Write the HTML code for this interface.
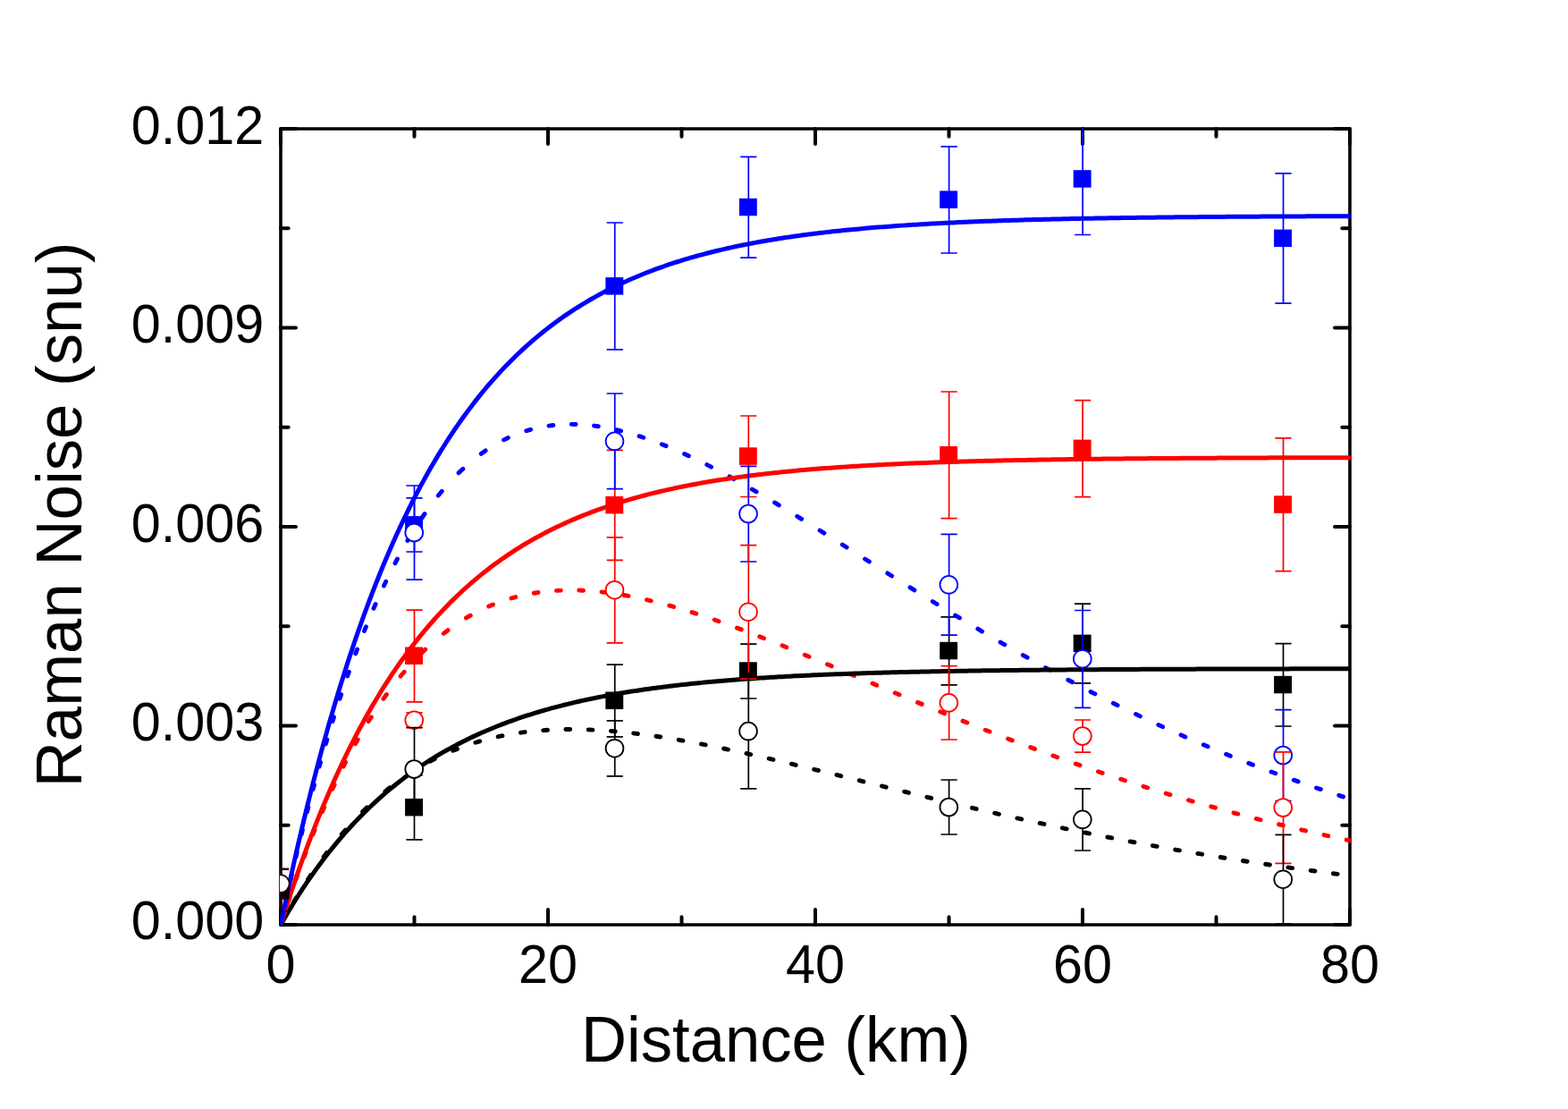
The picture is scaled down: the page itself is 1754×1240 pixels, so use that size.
<!DOCTYPE html>
<html lang="en"><head><meta charset="utf-8"><title>Raman Noise vs Distance</title>
<style>html,body{margin:0;padding:0;background:#fff;}body{width:1754px;height:1240px;overflow:hidden;}svg{display:block;}text{font-family:"Liberation Sans",Arial,Helvetica,sans-serif;fill:#000;}</style>
</head><body>
<svg width="1754" height="1240" viewBox="0 0 1754 1240">
<rect x="0" y="0" width="1754" height="1240" fill="#fff"/>
<defs><clipPath id="pc"><rect x="313.00" y="143.40" width="1198.00" height="891.60"/></clipPath></defs>
<g stroke="#000" fill="none" stroke-linecap="round">
<rect x="314.00" y="144.00" width="1196.00" height="890.00" stroke-width="3.60" stroke-linejoin="round"/>
<path d="M314.00 1034.00v-17.00M314.00 144.00v17.00M463.50 1034.00v-8.70M463.50 144.00v8.70M613.00 1034.00v-17.00M613.00 144.00v17.00M762.50 1034.00v-8.70M762.50 144.00v8.70M912.00 1034.00v-17.00M912.00 144.00v17.00M1061.50 1034.00v-8.70M1061.50 144.00v8.70M1211.00 1034.00v-17.00M1211.00 144.00v17.00M1360.50 1034.00v-8.70M1360.50 144.00v8.70M1510.00 1034.00v-17.00M1510.00 144.00v17.00M314.00 1034.00h17.00M1510.00 1034.00h-17.00M314.00 922.75h8.70M1510.00 922.75h-8.70M314.00 811.50h17.00M1510.00 811.50h-17.00M314.00 700.25h8.70M1510.00 700.25h-8.70M314.00 589.00h17.00M1510.00 589.00h-17.00M314.00 477.75h8.70M1510.00 477.75h-8.70M314.00 366.50h17.00M1510.00 366.50h-17.00M314.00 255.25h8.70M1510.00 255.25h-8.70M314.00 144.00h17.00M1510.00 144.00h-17.00" stroke-width="4.00"/>
</g>
<g font-size="60.40" text-anchor="end">
<text transform="translate(295.20 1050.35) scale(0.9827 1)">0.000</text>
<text transform="translate(295.20 828.10) scale(0.9827 1)">0.003</text>
<text transform="translate(295.20 606.25) scale(0.9827 1)">0.006</text>
<text transform="translate(295.20 383.25) scale(0.9827 1)">0.009</text>
<text transform="translate(295.20 161.25) scale(0.9827 1)">0.012</text>
</g>
<g font-size="60.40" text-anchor="middle">
<text transform="translate(314.00 1099.40) scale(0.9827 1)">0</text>
<text transform="translate(613.00 1099.40) scale(0.9827 1)">20</text>
<text transform="translate(912.00 1099.40) scale(0.9827 1)">40</text>
<text transform="translate(1211.00 1099.40) scale(0.9827 1)">60</text>
<text transform="translate(1510.00 1099.40) scale(0.9827 1)">80</text>
</g>
<text transform="translate(867.90 1187.00) scale(0.9788 1)" font-size="72.20" text-anchor="middle">Distance (km)</text>
<text transform="translate(91.30 575.50) rotate(-90) scale(0.9805 1)" font-size="72.20" text-anchor="middle">Raman Noise (snu)</text>
<g clip-path="url(#pc)">
<path d="M463.50 556.80V617.00M454.40 556.80h18.20M454.40 617.00h18.20M687.75 249.00V390.80M678.65 249.00h18.20M678.65 390.80h18.20M837.30 175.40V288.20M828.20 175.40h18.20M828.20 288.20h18.20M1061.60 163.90V283.00M1052.50 163.90h18.20M1052.50 283.00h18.20M1211.10 137.70V262.50M1202.00 137.70h18.20M1202.00 262.50h18.20M1435.50 193.90V339.10M1426.40 193.90h18.20M1426.40 339.10h18.20" stroke="#0000ff" stroke-width="1.70" fill="none"/><rect x="453.10" y="577.10" width="19.90" height="19.50" fill="#0000ff"/><rect x="677.35" y="310.10" width="19.90" height="19.50" fill="#0000ff"/><rect x="826.90" y="221.80" width="19.90" height="19.50" fill="#0000ff"/><rect x="1051.20" y="213.40" width="19.90" height="19.50" fill="#0000ff"/><rect x="1200.70" y="190.20" width="19.90" height="19.50" fill="#0000ff"/><rect x="1425.10" y="256.60" width="19.90" height="19.50" fill="#0000ff"/>
<path d="M463.50 682.20V784.80M454.40 682.20h18.20M454.40 784.80h18.20M687.75 503.30V626.40M678.65 503.30h18.20M678.65 626.40h18.20M837.30 465.00V555.50M828.20 465.00h18.20M828.20 555.50h18.20M1061.60 438.00V579.70M1052.50 438.00h18.20M1052.50 579.70h18.20M1211.10 447.60V555.70M1202.00 447.60h18.20M1202.00 555.70h18.20M1435.50 489.90V638.60M1426.40 489.90h18.20M1426.40 638.60h18.20" stroke="#ff0000" stroke-width="1.70" fill="none"/><rect x="453.10" y="723.50" width="19.90" height="19.50" fill="#ff0000"/><rect x="677.35" y="554.90" width="19.90" height="19.50" fill="#ff0000"/><rect x="826.90" y="500.30" width="19.90" height="19.50" fill="#ff0000"/><rect x="1051.20" y="498.90" width="19.90" height="19.50" fill="#ff0000"/><rect x="1200.70" y="491.60" width="19.90" height="19.50" fill="#ff0000"/><rect x="1425.10" y="554.30" width="19.90" height="19.50" fill="#ff0000"/>
<path d="M463.50 866.80V938.90M454.40 866.80h18.20M454.40 938.90h18.20M687.75 743.20V823.80M678.65 743.20h18.20M678.65 823.80h18.20M837.30 720.20V781.00M828.20 720.20h18.20M828.20 781.00h18.20M1061.60 689.90V765.80M1052.50 689.90h18.20M1052.50 765.80h18.20M1211.10 675.10V763.90M1202.00 675.10h18.20M1202.00 763.90h18.20M1435.50 719.60V812.00M1426.40 719.60h18.20M1426.40 812.00h18.20" stroke="#000000" stroke-width="1.70" fill="none"/><rect x="453.10" y="892.90" width="19.90" height="19.50" fill="#000000"/><rect x="677.35" y="773.50" width="19.90" height="19.50" fill="#000000"/><rect x="826.90" y="740.30" width="19.90" height="19.50" fill="#000000"/><rect x="1051.20" y="717.80" width="19.90" height="19.50" fill="#000000"/><rect x="1200.70" y="709.60" width="19.90" height="19.50" fill="#000000"/><rect x="1425.10" y="755.80" width="19.90" height="19.50" fill="#000000"/>
<path d="M314.04 1033.80L315.07 1029.00M319.52 1008.55L320.59 1003.75M325.20 983.30L326.30 978.50M331.09 958.05L332.23 953.25M337.20 932.80L338.39 928.00M343.56 907.55L344.80 902.75M350.19 882.30L351.49 877.50M357.13 857.05L358.49 852.25M364.40 831.80L365.82 827.00M372.05 806.55L373.54 801.75M380.11 781.30L381.70 776.50M388.66 756.05L390.34 751.25M397.75 730.80L399.55 726.00M407.49 705.55L409.42 700.75M417.99 680.30L420.08 675.50M429.39 655.05L431.68 650.25M441.93 629.80L444.46 625.00M455.89 604.55L458.75 599.75M471.76 579.30L475.05 574.50M490.32 554.05L494.25 549.25M513.05 528.82L517.85 524.23M538.30 507.33L543.10 503.95M563.55 491.89L568.35 489.57M588.80 481.70L593.60 480.30M614.05 476.08L618.85 475.48M639.30 474.39L644.10 474.47M664.55 476.08L669.35 476.74M689.80 480.65L694.60 481.81M715.05 487.66L719.85 489.23M740.30 496.72L745.10 498.64M765.55 507.48L770.35 509.69M790.80 519.64L795.60 522.09M816.05 532.93L820.85 535.56M841.30 547.11L846.10 549.89M866.55 561.97L871.35 564.86M891.80 577.34L896.60 580.30M917.05 593.04L921.85 596.06M942.30 608.96L947.10 612.00M967.55 624.96L972.35 628.00M992.80 640.95L997.60 643.98M1018.05 656.83L1022.85 659.84M1043.30 672.54L1048.10 675.50M1068.55 688.01L1073.35 690.92M1093.80 703.19L1098.60 706.04M1119.05 718.03L1123.85 720.81M1144.30 732.51L1149.10 735.22M1169.55 746.59L1174.35 749.22M1194.80 760.25L1199.60 762.79M1220.05 773.47L1224.85 775.93M1245.30 786.25L1250.10 788.63M1270.55 798.57L1275.35 800.86M1295.80 810.44L1300.60 812.64M1321.05 821.85L1325.85 823.97M1346.30 832.80L1351.10 834.83M1371.55 843.31L1376.35 845.25M1396.80 853.36L1401.60 855.22M1422.05 862.98L1426.85 864.76M1447.30 872.17L1452.10 873.87M1472.55 880.95L1477.35 882.57M1497.80 889.31L1502.60 890.86" stroke="#0000ff" stroke-width="4.90" stroke-linecap="round" fill="none"/>
<path d="M314.06 1033.80L315.60 1029.00M322.34 1008.55L323.96 1003.75M331.06 983.30L332.77 978.50M340.29 958.05L342.11 953.25M350.11 932.80L352.05 928.00M360.60 907.55L362.68 902.75M371.88 882.30L374.13 877.50M384.11 857.05L386.55 852.25M397.48 831.80L400.17 827.00M412.28 806.55L415.29 801.75M428.94 781.30L432.37 776.50M448.12 756.05L452.14 751.25M470.98 730.80L475.78 726.12M496.23 708.37L501.03 704.70M521.48 690.99L526.28 688.21M546.73 678.04L551.53 676.03M571.98 668.95L576.78 667.61M597.23 663.21L602.03 662.46M622.48 660.37L627.28 660.12M647.73 660.03L652.53 660.22M672.98 661.84L677.78 662.40M698.23 665.47L703.03 666.34M723.48 670.64L728.28 671.78M748.73 677.10L753.53 678.46M773.98 684.63L778.78 686.16M799.23 693.03L804.03 694.71M824.48 702.13L829.28 703.92M849.73 711.77L854.53 713.66M874.98 721.84L879.78 723.79M900.23 732.20L905.03 734.19M925.48 742.75L930.28 744.77M950.73 753.42L955.53 755.45M975.98 764.12L980.78 766.15M1001.23 774.79L1006.03 776.81M1026.48 785.38L1031.28 787.38M1051.73 795.83L1056.53 797.80M1076.98 806.11L1081.78 808.04M1102.23 816.19L1107.03 818.08M1127.48 826.03L1132.28 827.87M1152.73 835.62L1157.53 837.41M1177.98 844.94L1182.78 846.68M1203.23 853.97L1208.03 855.66M1228.48 862.72L1233.28 864.34M1253.73 871.16L1258.53 872.73M1278.98 879.29L1283.78 880.81M1304.23 887.13L1309.03 888.58M1329.48 894.65L1334.28 896.05M1354.73 901.87L1359.53 903.21M1379.98 908.79L1384.78 910.08M1405.23 915.42L1410.03 916.65M1430.48 921.75L1435.28 922.93M1455.73 927.80L1460.53 928.92M1480.98 933.58L1485.78 934.65M1506.23 939.08L1511.03 940.10" stroke="#ff0000" stroke-width="4.90" stroke-linecap="round" fill="none"/>
<path d="M314.11 1033.80L316.76 1029.00M328.55 1008.55L331.45 1003.75M344.44 983.30L347.65 978.50M362.15 958.05L365.77 953.25M382.26 932.80L386.42 928.00M405.66 907.56L410.46 902.89M430.91 884.79L435.71 880.95M456.16 866.15L460.96 863.03M481.41 851.13L486.21 848.64M506.66 839.29L511.46 837.37M531.91 830.25L536.71 828.82M557.16 823.66L561.96 822.65M582.41 819.19L587.21 818.56M607.66 816.57L612.46 816.26M632.91 815.54L637.71 815.51M658.16 815.89L662.96 816.09M683.41 817.41L688.21 817.81M708.66 819.92L713.46 820.49M733.91 823.26L738.71 823.98M759.16 827.31L763.96 828.15M784.41 831.93L789.21 832.86M809.66 837.02L814.46 838.03M834.91 842.47L839.71 843.54M860.16 848.21L864.96 849.33M885.41 854.17L890.21 855.32M910.66 860.28L915.46 861.45M935.91 866.47L940.71 867.66M961.16 872.72L965.96 873.90M986.41 878.96L991.21 880.15M1011.66 885.18L1016.46 886.35M1036.91 891.33L1041.71 892.49M1062.16 897.40L1066.96 898.54M1087.41 903.35L1092.21 904.47M1112.66 909.18L1117.46 910.28M1137.91 914.87L1142.71 915.94M1163.16 920.41L1167.96 921.44M1188.41 925.78L1193.21 926.79M1213.66 930.99L1218.46 931.96M1238.91 936.02L1243.71 936.96M1264.16 940.88L1268.96 941.78M1289.41 945.56L1294.21 946.43M1314.66 950.06L1319.46 950.89M1339.91 954.38L1344.71 955.18M1365.16 958.53L1369.96 959.29M1390.41 962.50L1395.21 963.23M1415.66 966.29L1420.46 967.00M1440.91 969.93L1445.71 970.60M1466.16 973.39L1470.96 974.03M1491.41 976.70L1496.21 977.31" stroke="#000000" stroke-width="4.90" stroke-linecap="round" fill="none"/>
<path d="M314.00 1034.00L317.00 1028.76L319.99 1023.62L322.99 1018.57L325.99 1013.61L328.99 1008.74L331.98 1003.96L334.98 999.27L337.98 994.67L340.98 990.15L343.97 985.71L346.97 981.35L349.97 977.08L352.97 972.88L355.96 968.76L358.96 964.71L361.96 960.74L364.96 956.84L367.95 953.01L370.95 949.25L373.95 945.56L376.95 941.94L379.94 938.38L382.94 934.89L385.94 931.47L388.94 928.10L391.93 924.80L394.93 921.56L397.93 918.37L400.93 915.25L403.92 912.18L406.92 909.17L409.92 906.21L412.92 903.31L415.91 900.46L418.91 897.67L421.91 894.92L424.91 892.23L427.90 889.58L430.90 886.98L433.90 884.43L436.90 881.93L439.89 879.47L442.89 877.06L445.89 874.69L448.89 872.36L451.88 870.08L454.88 867.84L457.88 865.64L460.88 863.48L463.87 861.36L466.87 859.28L469.87 857.23L472.87 855.23L475.86 853.26L478.86 851.33L481.86 849.43L484.86 847.57L487.85 845.74L490.85 843.94L493.85 842.18L496.85 840.45L499.84 838.75L502.84 837.08L505.84 835.44L508.84 833.84L511.83 832.26L514.83 830.71L517.83 829.19L520.83 827.70L523.82 826.23L526.82 824.79L529.82 823.38L532.82 821.99L535.81 820.63L538.81 819.30L541.81 817.98L544.81 816.70L547.80 815.43L550.80 814.19L553.80 812.97L556.80 811.78L559.79 810.60L562.79 809.45L565.79 808.32L568.79 807.21L571.78 806.12L574.78 805.05L577.78 803.99L580.78 802.96L583.77 801.95L586.77 800.96L589.77 799.98L592.77 799.02L595.76 798.08L598.76 797.16L601.76 796.25L604.76 795.36L607.75 794.49L610.75 793.63L613.75 792.79L616.74 791.96L619.74 791.15L622.74 790.35L625.74 789.57L628.73 788.80L631.73 788.05L634.73 787.31L637.73 786.58L640.72 785.87L643.72 785.17L646.72 784.48L649.72 783.80L652.71 783.14L655.71 782.49L658.71 781.85L661.71 781.23L664.70 780.61L667.70 780.01L670.70 779.41L673.70 778.83L676.69 778.26L679.69 777.70L682.69 777.15L685.69 776.61L688.68 776.08L691.68 775.56L694.68 775.05L697.68 774.54L700.67 774.05L703.67 773.57L706.67 773.09L709.67 772.62L712.66 772.17L715.66 771.72L718.66 771.28L721.66 770.84L724.65 770.42L727.65 770.00L730.65 769.59L733.65 769.19L736.64 768.79L739.64 768.41L742.64 768.02L745.64 767.65L748.63 767.28L751.63 766.92L754.63 766.57L757.63 766.22L760.62 765.88L763.62 765.55L766.62 765.22L769.62 764.90L772.61 764.58L775.61 764.27L778.61 763.97L781.61 763.67L784.60 763.37L787.60 763.08L790.60 762.80L793.60 762.52L796.59 762.25L799.59 761.98L802.59 761.72L805.59 761.46L808.58 761.21L811.58 760.96L814.58 760.71L817.58 760.47L820.57 760.24L823.57 760.01L826.57 759.78L829.57 759.56L832.56 759.34L835.56 759.12L838.56 758.91L841.56 758.70L844.55 758.50L847.55 758.30L850.55 758.11L853.55 757.91L856.54 757.73L859.54 757.54L862.54 757.36L865.54 757.18L868.53 757.00L871.53 756.83L874.53 756.66L877.53 756.50L880.52 756.33L883.52 756.17L886.52 756.02L889.52 755.86L892.51 755.71L895.51 755.56L898.51 755.42L901.51 755.28L904.50 755.14L907.50 755.00L910.50 754.86L913.50 754.73L916.49 754.60L919.49 754.47L922.49 754.34L925.48 754.22L928.48 754.10L931.48 753.98L934.48 753.86L937.47 753.75L940.47 753.64L943.47 753.53L946.47 753.42L949.46 753.31L952.46 753.21L955.46 753.10L958.46 753.00L961.45 752.91L964.45 752.81L967.45 752.71L970.45 752.62L973.44 752.53L976.44 752.44L979.44 752.35L982.44 752.26L985.43 752.18L988.43 752.09L991.43 752.01L994.43 751.93L997.42 751.85L1000.42 751.77L1003.42 751.70L1006.42 751.62L1009.41 751.55L1012.41 751.48L1015.41 751.41L1018.41 751.34L1021.40 751.27L1024.40 751.20L1027.40 751.13L1030.40 751.07L1033.39 751.01L1036.39 750.94L1039.39 750.88L1042.39 750.82L1045.38 750.76L1048.38 750.71L1051.38 750.65L1054.38 750.59L1057.37 750.54L1060.37 750.48L1063.37 750.43L1066.37 750.38L1069.36 750.33L1072.36 750.28L1075.36 750.23L1078.36 750.18L1081.35 750.13L1084.35 750.09L1087.35 750.04L1090.35 750.00L1093.34 749.95L1096.34 749.91L1099.34 749.87L1102.34 749.83L1105.33 749.79L1108.33 749.75L1111.33 749.71L1114.33 749.67L1117.32 749.63L1120.32 749.59L1123.32 749.56L1126.32 749.52L1129.31 749.49L1132.31 749.45L1135.31 749.42L1138.31 749.38L1141.30 749.35L1144.30 749.32L1147.30 749.29L1150.30 749.26L1153.29 749.23L1156.29 749.20L1159.29 749.17L1162.29 749.14L1165.28 749.11L1168.28 749.08L1171.28 749.06L1174.28 749.03L1177.27 749.00L1180.27 748.98L1183.27 748.95L1186.27 748.93L1189.26 748.90L1192.26 748.88L1195.26 748.86L1198.26 748.83L1201.25 748.81L1204.25 748.79L1207.25 748.77L1210.25 748.75L1213.24 748.72L1216.24 748.70L1219.24 748.68L1222.23 748.66L1225.23 748.64L1228.23 748.63L1231.23 748.61L1234.22 748.59L1237.22 748.57L1240.22 748.55L1243.22 748.54L1246.21 748.52L1249.21 748.50L1252.21 748.48L1255.21 748.47L1258.20 748.45L1261.20 748.44L1264.20 748.42L1267.20 748.41L1270.19 748.39L1273.19 748.38L1276.19 748.36L1279.19 748.35L1282.18 748.34L1285.18 748.32L1288.18 748.31L1291.18 748.30L1294.17 748.28L1297.17 748.27L1300.17 748.26L1303.17 748.25L1306.16 748.23L1309.16 748.22L1312.16 748.21L1315.16 748.20L1318.15 748.19L1321.15 748.18L1324.15 748.17L1327.15 748.16L1330.14 748.15L1333.14 748.14L1336.14 748.13L1339.14 748.12L1342.13 748.11L1345.13 748.10L1348.13 748.09L1351.13 748.08L1354.12 748.07L1357.12 748.06L1360.12 748.06L1363.12 748.05L1366.11 748.04L1369.11 748.03L1372.11 748.02L1375.11 748.01L1378.10 748.01L1381.10 748.00L1384.10 747.99L1387.10 747.99L1390.09 747.98L1393.09 747.97L1396.09 747.96L1399.09 747.96L1402.08 747.95L1405.08 747.94L1408.08 747.94L1411.08 747.93L1414.07 747.93L1417.07 747.92L1420.07 747.91L1423.07 747.91L1426.06 747.90L1429.06 747.90L1432.06 747.89L1435.06 747.89L1438.05 747.88L1441.05 747.88L1444.05 747.87L1447.05 747.87L1450.04 747.86L1453.04 747.86L1456.04 747.85L1459.04 747.85L1462.03 747.84L1465.03 747.84L1468.03 747.83L1471.03 747.83L1474.02 747.83L1477.02 747.82L1480.02 747.82L1483.02 747.81L1486.01 747.81L1489.01 747.81L1492.01 747.80L1495.01 747.80L1498.00 747.79L1501.00 747.79L1504.00 747.79L1507.00 747.78L1509.99 747.78L1512.99 747.78" stroke="#000000" stroke-width="5.00" fill="none" stroke-linejoin="round"/>
<path d="M314.00 1034.00L317.00 1024.44L319.99 1015.05L322.99 1005.83L325.99 996.78L328.99 987.90L331.98 979.18L334.98 970.62L337.98 962.22L340.98 953.96L343.97 945.87L346.97 937.91L349.97 930.11L352.97 922.45L355.96 914.92L358.96 907.54L361.96 900.29L364.96 893.17L367.95 886.18L370.95 879.33L373.95 872.59L376.95 865.98L379.94 859.49L382.94 853.12L385.94 846.87L388.94 840.73L391.93 834.70L394.93 828.78L397.93 822.97L400.93 817.27L403.92 811.67L406.92 806.18L409.92 800.78L412.92 795.49L415.91 790.29L418.91 785.18L421.91 780.17L424.91 775.25L427.90 770.42L430.90 765.68L433.90 761.03L436.90 756.46L439.89 751.97L442.89 747.57L445.89 743.25L448.89 739.00L451.88 734.84L454.88 730.75L457.88 726.73L460.88 722.79L463.87 718.92L466.87 715.12L469.87 711.39L472.87 707.73L475.86 704.14L478.86 700.61L481.86 697.14L484.86 693.74L487.85 690.41L490.85 687.13L493.85 683.91L496.85 680.75L499.84 677.65L502.84 674.61L505.84 671.62L508.84 668.69L511.83 665.81L514.83 662.98L517.83 660.21L520.83 657.48L523.82 654.81L526.82 652.18L529.82 649.60L532.82 647.07L535.81 644.59L538.81 642.15L541.81 639.76L544.81 637.41L547.80 635.10L550.80 632.83L553.80 630.61L556.80 628.43L559.79 626.28L562.79 624.18L565.79 622.11L568.79 620.09L571.78 618.10L574.78 616.14L577.78 614.22L580.78 612.34L583.77 610.49L586.77 608.68L589.77 606.90L592.77 605.15L595.76 603.43L598.76 601.74L601.76 600.09L604.76 598.46L607.75 596.87L610.75 595.30L613.75 593.77L616.74 592.26L619.74 590.78L622.74 589.32L625.74 587.90L628.73 586.49L631.73 585.12L634.73 583.77L637.73 582.44L640.72 581.14L643.72 579.86L646.72 578.61L649.72 577.38L652.71 576.17L655.71 574.98L658.71 573.82L661.71 572.67L664.70 571.55L667.70 570.45L670.70 569.36L673.70 568.30L676.69 567.26L679.69 566.23L682.69 565.23L685.69 564.24L688.68 563.27L691.68 562.32L694.68 561.39L697.68 560.47L700.67 559.57L703.67 558.69L706.67 557.82L709.67 556.97L712.66 556.14L715.66 555.32L718.66 554.51L721.66 553.72L724.65 552.94L727.65 552.18L730.65 551.43L733.65 550.70L736.64 549.98L739.64 549.27L742.64 548.58L745.64 547.89L748.63 547.22L751.63 546.57L754.63 545.92L757.63 545.29L760.62 544.67L763.62 544.06L766.62 543.46L769.62 542.87L772.61 542.29L775.61 541.72L778.61 541.17L781.61 540.62L784.60 540.08L787.60 539.56L790.60 539.04L793.60 538.53L796.59 538.04L799.59 537.55L802.59 537.07L805.59 536.59L808.58 536.13L811.58 535.68L814.58 535.23L817.58 534.79L820.57 534.36L823.57 533.94L826.57 533.53L829.57 533.12L832.56 532.72L835.56 532.33L838.56 531.94L841.56 531.57L844.55 531.20L847.55 530.83L850.55 530.47L853.55 530.12L856.54 529.78L859.54 529.44L862.54 529.11L865.54 528.78L868.53 528.46L871.53 528.15L874.53 527.84L877.53 527.54L880.52 527.24L883.52 526.95L886.52 526.66L889.52 526.38L892.51 526.11L895.51 525.84L898.51 525.57L901.51 525.31L904.50 525.05L907.50 524.80L910.50 524.55L913.50 524.31L916.49 524.07L919.49 523.84L922.49 523.61L925.48 523.38L928.48 523.16L931.48 522.95L934.48 522.73L937.47 522.52L940.47 522.32L943.47 522.12L946.47 521.92L949.46 521.72L952.46 521.53L955.46 521.35L958.46 521.16L961.45 520.98L964.45 520.81L967.45 520.63L970.45 520.46L973.44 520.29L976.44 520.13L979.44 519.97L982.44 519.81L985.43 519.65L988.43 519.50L991.43 519.35L994.43 519.20L997.42 519.06L1000.42 518.92L1003.42 518.78L1006.42 518.64L1009.41 518.51L1012.41 518.37L1015.41 518.24L1018.41 518.12L1021.40 517.99L1024.40 517.87L1027.40 517.75L1030.40 517.63L1033.39 517.52L1036.39 517.40L1039.39 517.29L1042.39 517.18L1045.38 517.07L1048.38 516.97L1051.38 516.86L1054.38 516.76L1057.37 516.66L1060.37 516.56L1063.37 516.47L1066.37 516.37L1069.36 516.28L1072.36 516.19L1075.36 516.10L1078.36 516.01L1081.35 515.93L1084.35 515.84L1087.35 515.76L1090.35 515.68L1093.34 515.60L1096.34 515.52L1099.34 515.44L1102.34 515.37L1105.33 515.29L1108.33 515.22L1111.33 515.15L1114.33 515.08L1117.32 515.01L1120.32 514.94L1123.32 514.87L1126.32 514.81L1129.31 514.74L1132.31 514.68L1135.31 514.62L1138.31 514.56L1141.30 514.50L1144.30 514.44L1147.30 514.38L1150.30 514.33L1153.29 514.27L1156.29 514.22L1159.29 514.16L1162.29 514.11L1165.28 514.06L1168.28 514.01L1171.28 513.96L1174.28 513.91L1177.27 513.86L1180.27 513.82L1183.27 513.77L1186.27 513.72L1189.26 513.68L1192.26 513.64L1195.26 513.59L1198.26 513.55L1201.25 513.51L1204.25 513.47L1207.25 513.43L1210.25 513.39L1213.24 513.35L1216.24 513.32L1219.24 513.28L1222.23 513.24L1225.23 513.21L1228.23 513.17L1231.23 513.14L1234.22 513.10L1237.22 513.07L1240.22 513.04L1243.22 513.01L1246.21 512.98L1249.21 512.94L1252.21 512.91L1255.21 512.89L1258.20 512.86L1261.20 512.83L1264.20 512.80L1267.20 512.77L1270.19 512.75L1273.19 512.72L1276.19 512.69L1279.19 512.67L1282.18 512.64L1285.18 512.62L1288.18 512.59L1291.18 512.57L1294.17 512.55L1297.17 512.52L1300.17 512.50L1303.17 512.48L1306.16 512.46L1309.16 512.44L1312.16 512.42L1315.16 512.40L1318.15 512.38L1321.15 512.36L1324.15 512.34L1327.15 512.32L1330.14 512.30L1333.14 512.28L1336.14 512.26L1339.14 512.25L1342.13 512.23L1345.13 512.21L1348.13 512.19L1351.13 512.18L1354.12 512.16L1357.12 512.15L1360.12 512.13L1363.12 512.12L1366.11 512.10L1369.11 512.09L1372.11 512.07L1375.11 512.06L1378.10 512.04L1381.10 512.03L1384.10 512.02L1387.10 512.00L1390.09 511.99L1393.09 511.98L1396.09 511.97L1399.09 511.95L1402.08 511.94L1405.08 511.93L1408.08 511.92L1411.08 511.91L1414.07 511.90L1417.07 511.88L1420.07 511.87L1423.07 511.86L1426.06 511.85L1429.06 511.84L1432.06 511.83L1435.06 511.82L1438.05 511.81L1441.05 511.80L1444.05 511.80L1447.05 511.79L1450.04 511.78L1453.04 511.77L1456.04 511.76L1459.04 511.75L1462.03 511.74L1465.03 511.74L1468.03 511.73L1471.03 511.72L1474.02 511.71L1477.02 511.70L1480.02 511.70L1483.02 511.69L1486.01 511.68L1489.01 511.68L1492.01 511.67L1495.01 511.66L1498.00 511.66L1501.00 511.65L1504.00 511.64L1507.00 511.64L1509.99 511.63L1512.99 511.62" stroke="#ff0000" stroke-width="5.00" fill="none" stroke-linejoin="round"/>
<path d="M314.00 1034.00L317.00 1019.49L319.99 1005.25L322.99 991.27L325.99 977.55L328.99 964.08L331.98 950.85L334.98 937.87L337.98 925.12L340.98 912.61L343.97 900.32L346.97 888.26L349.97 876.42L352.97 864.80L355.96 853.39L358.96 842.19L361.96 831.20L364.96 820.40L367.95 809.80L370.95 799.40L373.95 789.19L376.95 779.16L379.94 769.32L382.94 759.65L385.94 750.17L388.94 740.86L391.93 731.71L394.93 722.74L397.93 713.93L400.93 705.28L403.92 696.79L406.92 688.45L409.92 680.27L412.92 672.24L415.91 664.35L418.91 656.61L421.91 649.01L424.91 641.55L427.90 634.22L430.90 627.03L433.90 619.97L436.90 613.04L439.89 606.24L442.89 599.56L445.89 593.00L448.89 586.56L451.88 580.24L454.88 574.04L457.88 567.95L460.88 561.97L463.87 556.10L466.87 550.34L469.87 544.69L472.87 539.13L475.86 533.68L478.86 528.33L481.86 523.08L484.86 517.92L487.85 512.86L490.85 507.89L493.85 503.01L496.85 498.22L499.84 493.51L502.84 488.90L505.84 484.37L508.84 479.92L511.83 475.55L514.83 471.26L517.83 467.05L520.83 462.92L523.82 458.86L526.82 454.88L529.82 450.97L532.82 447.13L535.81 443.36L538.81 439.67L541.81 436.03L544.81 432.47L547.80 428.97L550.80 425.53L553.80 422.16L556.80 418.85L559.79 415.60L562.79 412.41L565.79 409.28L568.79 406.20L571.78 403.18L574.78 400.22L577.78 397.31L580.78 394.45L583.77 391.65L586.77 388.90L589.77 386.19L592.77 383.54L595.76 380.94L598.76 378.38L601.76 375.87L604.76 373.41L607.75 370.99L610.75 368.61L613.75 366.28L616.74 363.99L619.74 361.75L622.74 359.54L625.74 357.38L628.73 355.25L631.73 353.16L634.73 351.11L637.73 349.10L640.72 347.13L643.72 345.19L646.72 343.29L649.72 341.42L652.71 339.59L655.71 337.79L658.71 336.02L661.71 334.28L664.70 332.58L667.70 330.91L670.70 329.27L673.70 327.66L676.69 326.07L679.69 324.52L682.69 323.00L685.69 321.50L688.68 320.03L691.68 318.59L694.68 317.17L697.68 315.78L700.67 314.42L703.67 313.08L706.67 311.76L709.67 310.47L712.66 309.21L715.66 307.96L718.66 306.74L721.66 305.54L724.65 304.36L727.65 303.21L730.65 302.07L733.65 300.96L736.64 299.87L739.64 298.79L742.64 297.74L745.64 296.70L748.63 295.69L751.63 294.69L754.63 293.71L757.63 292.75L760.62 291.81L763.62 290.88L766.62 289.97L769.62 289.08L772.61 288.21L775.61 287.35L778.61 286.50L781.61 285.67L784.60 284.86L787.60 284.06L790.60 283.28L793.60 282.51L796.59 281.75L799.59 281.01L802.59 280.28L805.59 279.56L808.58 278.86L811.58 278.17L814.58 277.50L817.58 276.83L820.57 276.18L823.57 275.54L826.57 274.91L829.57 274.30L832.56 273.69L835.56 273.10L838.56 272.51L841.56 271.94L844.55 271.38L847.55 270.82L850.55 270.28L853.55 269.75L856.54 269.23L859.54 268.72L862.54 268.21L865.54 267.72L868.53 267.23L871.53 266.76L874.53 266.29L877.53 265.83L880.52 265.38L883.52 264.94L886.52 264.50L889.52 264.08L892.51 263.66L895.51 263.25L898.51 262.84L901.51 262.45L904.50 262.06L907.50 261.68L910.50 261.30L913.50 260.93L916.49 260.57L919.49 260.22L922.49 259.87L925.48 259.53L928.48 259.19L931.48 258.86L934.48 258.54L937.47 258.22L940.47 257.91L943.47 257.61L946.47 257.31L949.46 257.01L952.46 256.72L955.46 256.44L958.46 256.16L961.45 255.89L964.45 255.62L967.45 255.35L970.45 255.09L973.44 254.84L976.44 254.59L979.44 254.35L982.44 254.11L985.43 253.87L988.43 253.64L991.43 253.41L994.43 253.19L997.42 252.97L1000.42 252.75L1003.42 252.54L1006.42 252.33L1009.41 252.13L1012.41 251.93L1015.41 251.73L1018.41 251.54L1021.40 251.35L1024.40 251.17L1027.40 250.98L1030.40 250.80L1033.39 250.63L1036.39 250.46L1039.39 250.29L1042.39 250.12L1045.38 249.96L1048.38 249.80L1051.38 249.64L1054.38 249.49L1057.37 249.33L1060.37 249.18L1063.37 249.04L1066.37 248.90L1069.36 248.75L1072.36 248.62L1075.36 248.48L1078.36 248.35L1081.35 248.22L1084.35 248.09L1087.35 247.96L1090.35 247.84L1093.34 247.72L1096.34 247.60L1099.34 247.48L1102.34 247.37L1105.33 247.25L1108.33 247.14L1111.33 247.03L1114.33 246.93L1117.32 246.82L1120.32 246.72L1123.32 246.62L1126.32 246.52L1129.31 246.42L1132.31 246.33L1135.31 246.23L1138.31 246.14L1141.30 246.05L1144.30 245.96L1147.30 245.87L1150.30 245.79L1153.29 245.70L1156.29 245.62L1159.29 245.54L1162.29 245.46L1165.28 245.38L1168.28 245.31L1171.28 245.23L1174.28 245.16L1177.27 245.09L1180.27 245.01L1183.27 244.94L1186.27 244.88L1189.26 244.81L1192.26 244.74L1195.26 244.68L1198.26 244.61L1201.25 244.55L1204.25 244.49L1207.25 244.43L1210.25 244.37L1213.24 244.31L1216.24 244.26L1219.24 244.20L1222.23 244.15L1225.23 244.09L1228.23 244.04L1231.23 243.99L1234.22 243.94L1237.22 243.89L1240.22 243.84L1243.22 243.79L1246.21 243.74L1249.21 243.69L1252.21 243.65L1255.21 243.60L1258.20 243.56L1261.20 243.52L1264.20 243.47L1267.20 243.43L1270.19 243.39L1273.19 243.35L1276.19 243.31L1279.19 243.27L1282.18 243.24L1285.18 243.20L1288.18 243.16L1291.18 243.13L1294.17 243.09L1297.17 243.06L1300.17 243.02L1303.17 242.99L1306.16 242.96L1309.16 242.92L1312.16 242.89L1315.16 242.86L1318.15 242.83L1321.15 242.80L1324.15 242.77L1327.15 242.74L1330.14 242.72L1333.14 242.69L1336.14 242.66L1339.14 242.63L1342.13 242.61L1345.13 242.58L1348.13 242.56L1351.13 242.53L1354.12 242.51L1357.12 242.48L1360.12 242.46L1363.12 242.44L1366.11 242.41L1369.11 242.39L1372.11 242.37L1375.11 242.35L1378.10 242.33L1381.10 242.31L1384.10 242.29L1387.10 242.27L1390.09 242.25L1393.09 242.23L1396.09 242.21L1399.09 242.19L1402.08 242.17L1405.08 242.15L1408.08 242.14L1411.08 242.12L1414.07 242.10L1417.07 242.09L1420.07 242.07L1423.07 242.05L1426.06 242.04L1429.06 242.02L1432.06 242.01L1435.06 241.99L1438.05 241.98L1441.05 241.97L1444.05 241.95L1447.05 241.94L1450.04 241.92L1453.04 241.91L1456.04 241.90L1459.04 241.88L1462.03 241.87L1465.03 241.86L1468.03 241.85L1471.03 241.84L1474.02 241.82L1477.02 241.81L1480.02 241.80L1483.02 241.79L1486.01 241.78L1489.01 241.77L1492.01 241.76L1495.01 241.75L1498.00 241.74L1501.00 241.73L1504.00 241.72L1507.00 241.71L1509.99 241.70L1512.99 241.69" stroke="#0000ff" stroke-width="5.00" fill="none" stroke-linejoin="round"/>
<path d="M463.50 543.00V648.20M454.40 543.00h18.20M454.40 648.20h18.20M687.75 440.00V546.60M678.65 440.00h18.20M678.65 546.60h18.20M837.30 521.30V628.00M828.20 521.30h18.20M828.20 628.00h18.20M1061.60 597.40V710.20M1052.50 597.40h18.20M1052.50 710.20h18.20M1211.10 682.50V791.30M1202.00 682.50h18.20M1202.00 791.30h18.20M1435.50 793.60V895.50M1426.40 793.60h18.20M1426.40 895.50h18.20" stroke="#0000ff" stroke-width="1.70" fill="none"/><circle cx="463.25" cy="595.50" r="9.90" fill="#fff" stroke="#0000ff" stroke-width="1.80"/><circle cx="687.50" cy="493.30" r="9.90" fill="#fff" stroke="#0000ff" stroke-width="1.80"/><circle cx="837.05" cy="574.50" r="9.90" fill="#fff" stroke="#0000ff" stroke-width="1.80"/><circle cx="1061.35" cy="653.80" r="9.90" fill="#fff" stroke="#0000ff" stroke-width="1.80"/><circle cx="1210.85" cy="736.70" r="9.90" fill="#fff" stroke="#0000ff" stroke-width="1.80"/><circle cx="1435.25" cy="844.50" r="9.90" fill="#fff" stroke="#0000ff" stroke-width="1.80"/>
<path d="M463.50 796.90V813.60M454.40 796.90h18.20M454.40 813.60h18.20M687.75 600.80V718.90M678.65 600.80h18.20M678.65 718.90h18.20M837.30 609.60V759.20M828.20 609.60h18.20M828.20 759.20h18.20M1061.60 744.70V827.00M1052.50 744.70h18.20M1052.50 827.00h18.20M1211.10 805.00V841.10M1202.00 805.00h18.20M1202.00 841.10h18.20M1435.50 840.80V965.40M1426.40 840.80h18.20M1426.40 965.40h18.20" stroke="#ff0000" stroke-width="1.70" fill="none"/><circle cx="463.25" cy="805.20" r="9.90" fill="#fff" stroke="#ff0000" stroke-width="1.80"/><circle cx="687.50" cy="659.70" r="9.90" fill="#fff" stroke="#ff0000" stroke-width="1.80"/><circle cx="837.05" cy="684.20" r="9.90" fill="#fff" stroke="#ff0000" stroke-width="1.80"/><circle cx="1061.35" cy="785.80" r="9.90" fill="#fff" stroke="#ff0000" stroke-width="1.80"/><circle cx="1210.85" cy="823.00" r="9.90" fill="#fff" stroke="#ff0000" stroke-width="1.80"/><circle cx="1435.25" cy="903.00" r="9.90" fill="#fff" stroke="#ff0000" stroke-width="1.80"/>
<path d="M463.50 813.50V906.50M454.40 813.50h18.20M454.40 906.50h18.20M687.75 805.90V867.80M678.65 805.90h18.20M678.65 867.80h18.20M837.30 753.20V881.80M828.20 753.20h18.20M828.20 881.80h18.20M1061.60 872.00V933.00M1052.50 872.00h18.20M1052.50 933.00h18.20M1211.10 881.90V951.00M1202.00 881.90h18.20M1202.00 951.00h18.20M1435.50 933.40V1033.20M1426.40 933.40h18.20M1426.40 1033.20h18.20" stroke="#000000" stroke-width="1.70" fill="none"/><circle cx="463.25" cy="860.00" r="9.90" fill="#fff" stroke="#000000" stroke-width="1.80"/><circle cx="687.50" cy="836.70" r="9.90" fill="#fff" stroke="#000000" stroke-width="1.80"/><circle cx="837.05" cy="817.60" r="9.90" fill="#fff" stroke="#000000" stroke-width="1.80"/><circle cx="1061.35" cy="902.50" r="9.90" fill="#fff" stroke="#000000" stroke-width="1.80"/><circle cx="1210.85" cy="916.30" r="9.90" fill="#fff" stroke="#000000" stroke-width="1.80"/><circle cx="1435.25" cy="983.20" r="9.90" fill="#fff" stroke="#000000" stroke-width="1.80"/>
<path d="M314.00 972.20V1019.00M304.90 972.20h18.20M304.90 1019.00h18.20" stroke="#2a0010" stroke-width="1.70" fill="none"/><rect x="303.60" y="985.70" width="19.90" height="19.50" fill="#000000"/>
<path d="M314.00 971.30V1005.00M304.90 971.30h18.20M304.90 1005.00h18.20" stroke="#2a0010" stroke-width="1.70" fill="none"/><circle cx="313.75" cy="988.10" r="9.90" fill="#fff" stroke="#2a0010" stroke-width="1.80"/>
</g>
</svg></body></html>
